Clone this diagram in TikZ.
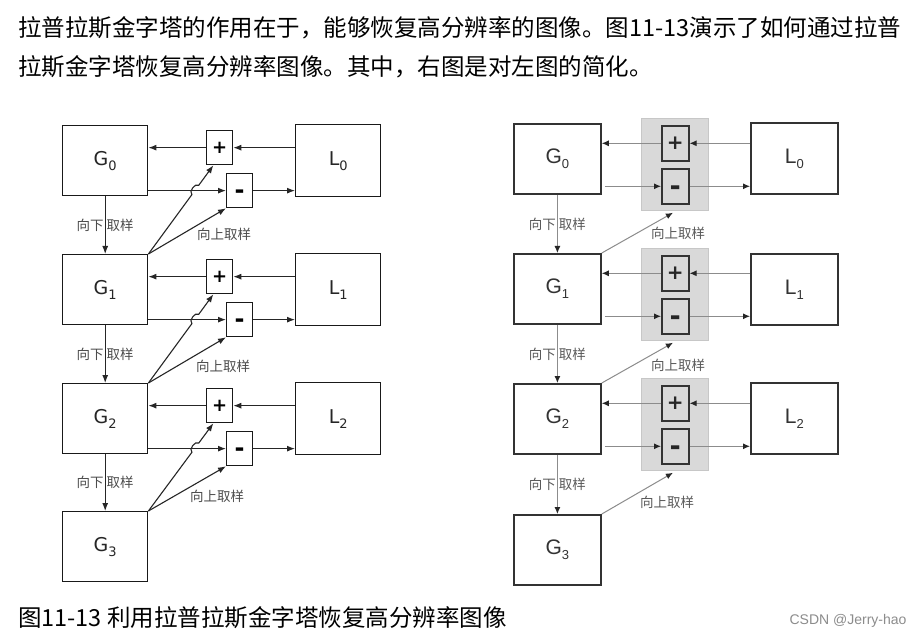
\documentclass[tikz,border=0pt]{standalone}
\usepackage{fontspec}
\usetikzlibrary{arrows.meta,calc}
\newfontfamily\cjk{Noto Sans CJK SC}
\newfontfamily\dvs{DejaVu Sans}
\newfontfamily\las{Liberation Sans}
\newcommand\mysub[2]{#1\raisebox{-5pt}{\fontsize{13}{13}\selectfont #2}}
\tikzset{
  lbox/.style={draw=black!90, line width=1.4pt, anchor=north west, inner sep=0pt,
    minimum width=85pt, minimum height=70pt, font=\dvs\fontsize{19}{19}\selectfont, text=black!85},
  lop/.style={draw=black!90, line width=1.3pt, anchor=north west, inner sep=0pt,
    minimum width=26pt, minimum height=34pt, font=\dvs\bfseries\fontsize{18}{18}\selectfont},
  lminus/.style={lop, font=\dvs\bfseries\fontsize{24}{24}\selectfont, text height=16pt, text depth=0pt},
  lline/.style={draw=black!85, line width=1.1pt, -{Latex[length=8pt,width=6pt]}},
  llab/.style={font=\cjk\fontsize{13.5}{13.5}\selectfont, text=black!70, inner sep=0pt},
  rbox/.style={draw=black!80, line width=1.8pt, anchor=north west, inner sep=0pt,
    minimum width=87pt, minimum height=70pt, font=\las\fontsize{21}{21}\selectfont, text=black!80},
  rop/.style={draw=black!80, line width=1.6pt, anchor=north west, inner sep=0pt,
    minimum width=27pt, minimum height=35pt, font=\dvs\bfseries\fontsize{20}{20}\selectfont, text=black!85},
  rminus/.style={rop, font=\dvs\bfseries\fontsize{27}{27}\selectfont, text height=18pt, text depth=0pt},
  rgray/.style={draw=black!22, fill=black!15, line width=0.8pt, anchor=north west,
    inner sep=0pt, minimum width=67pt, minimum height=92pt},
  rline/.style={draw=black!45, line width=1pt, -{Latex[length=7pt,width=6pt,color=black!85]}},
  rlab/.style={font=\cjk\fontsize{13.5}{13.5}\selectfont, text=black!65, inner sep=0pt},
  para/.style={font=\cjk\fontsize{23.5}{23.5}\selectfont, anchor=base west, inner sep=0pt, text=black}
}
\begin{document}
\begin{tikzpicture}[x=1pt,y=-1pt]
\useasboundingbox (0,0) rectangle (916,639);
\fill[white] (0,0) rectangle (916,639);

% text
\node[para] (t1) at (18,37) {拉普拉斯金字塔的作用在于，能够恢复高分辨率的图像。图11-13演示了如何通过拉普};
\node[para] (t2) at (18,76) {拉斯金字塔恢复高分辨率图像。其中，右图是对左图的简化。};
\node[para] (cap) at (18,626) {图11-13 利用拉普拉斯金字塔恢复高分辨率图像};
\node[font=\las\fontsize{14}{14}\selectfont, text=black!45, inner sep=0pt] (wm) at (848,621) {CSDN @Jerry-hao};

% ---------------- left diagram ----------------
\foreach \i/\t in {0/125,1/254,2/383,3/511}
  \node[lbox] (LG\i) at (62,\t) {\mysub{G}{\i}};
\foreach \i/\t in {0/124,1/253,2/382} {
  \node[lbox, minimum height=72pt] (LL\i) at (295,\t) {\mysub{L}{\i}};
}
\foreach \i/\t in {0/125,1/254,2/383} {
  \node[lop] (LP\i) at (206,\t+5) {+};
  \node[lminus] (LM\i) at (226,\t+48) {-};
}
\foreach \i/\n/\ux/\uy in {0/1/224/234, 1/2/223/366, 2/3/217/496} {
  \draw[lline] (LL\i.west |- LP\i.east) -- (LP\i.east);
  \draw[lline] (LP\i.west) -- (LG\i.east |- LP\i.west);
  \draw[lline] (LG\i.east |- LM\i.west) -- (LM\i.west);
  \draw[lline] (LM\i.east) -- (LL\i.west |- LM\i.east);
  \draw[lline] (LG\i.south) -- (LG\n.north);
  \node[llab] at ($(LG\i.south)!0.5!(LG\n.north)$) {向下 取样};
  \coordinate (LT\i) at ($(LP\i.south west)!0.27!(LP\i.south east)$);
  \draw[lline] (LG\n.north east) -- ($(LG\n.north east)!0.67!(LT\i)$)
     to[bend left=90] ($(LG\n.north east)!0.775!(LT\i)$) -- (LT\i);
  \draw[lline] (LG\n.north east) -- (LM\i.south west);
  \node[llab] at (\ux,\uy) {向上取样};
}

% ---------------- right diagram ----------------
\foreach \i/\t in {0/123,1/253,2/383,3/514}
  \node[rbox] (RG\i) at (513,\t) {\mysub{G}{\i}};
\foreach \i/\t in {0/122,1/253,2/382} {
  \node[rbox, minimum height=71pt] (RL\i) at (750,\t) {\mysub{L}{\i}};
}
\foreach \i/\t in {0/123,1/253,2/383} {
  \node[rgray] (RS\i) at (641,\t-5) {};
  \node[rop] (RP\i) at (661,\t+2) {+};
  \node[rminus] (RM\i) at (661,\t+45) {-};
}
\foreach \i/\n/\ux/\uy in {0/1/678/233, 1/2/678/365, 2/3/667/502} {
  \draw[rline] (RL\i.west |- RP\i.east) -- (RP\i.east);
  \draw[rline] (RP\i.west) -- (RG\i.east |- RP\i.west);
  \draw[rline] ($(RG\i.east |- RM\i.west)+(3,0)$) -- (RM\i.west);
  \draw[rline] (RM\i.east) -- (RL\i.west |- RM\i.east);
  \draw[rline] (RG\i.south) -- (RG\n.north);
  \node[rlab] at ($(RG\i.south)!0.5!(RG\n.north)$) {向下 取样};
  \draw[rline] (RG\n.north east) -- ($(RS\i.south)+(-2,2)$);
  \node[rlab] at (\ux,\uy) {向上取样};
}
\end{tikzpicture}
\end{document}
